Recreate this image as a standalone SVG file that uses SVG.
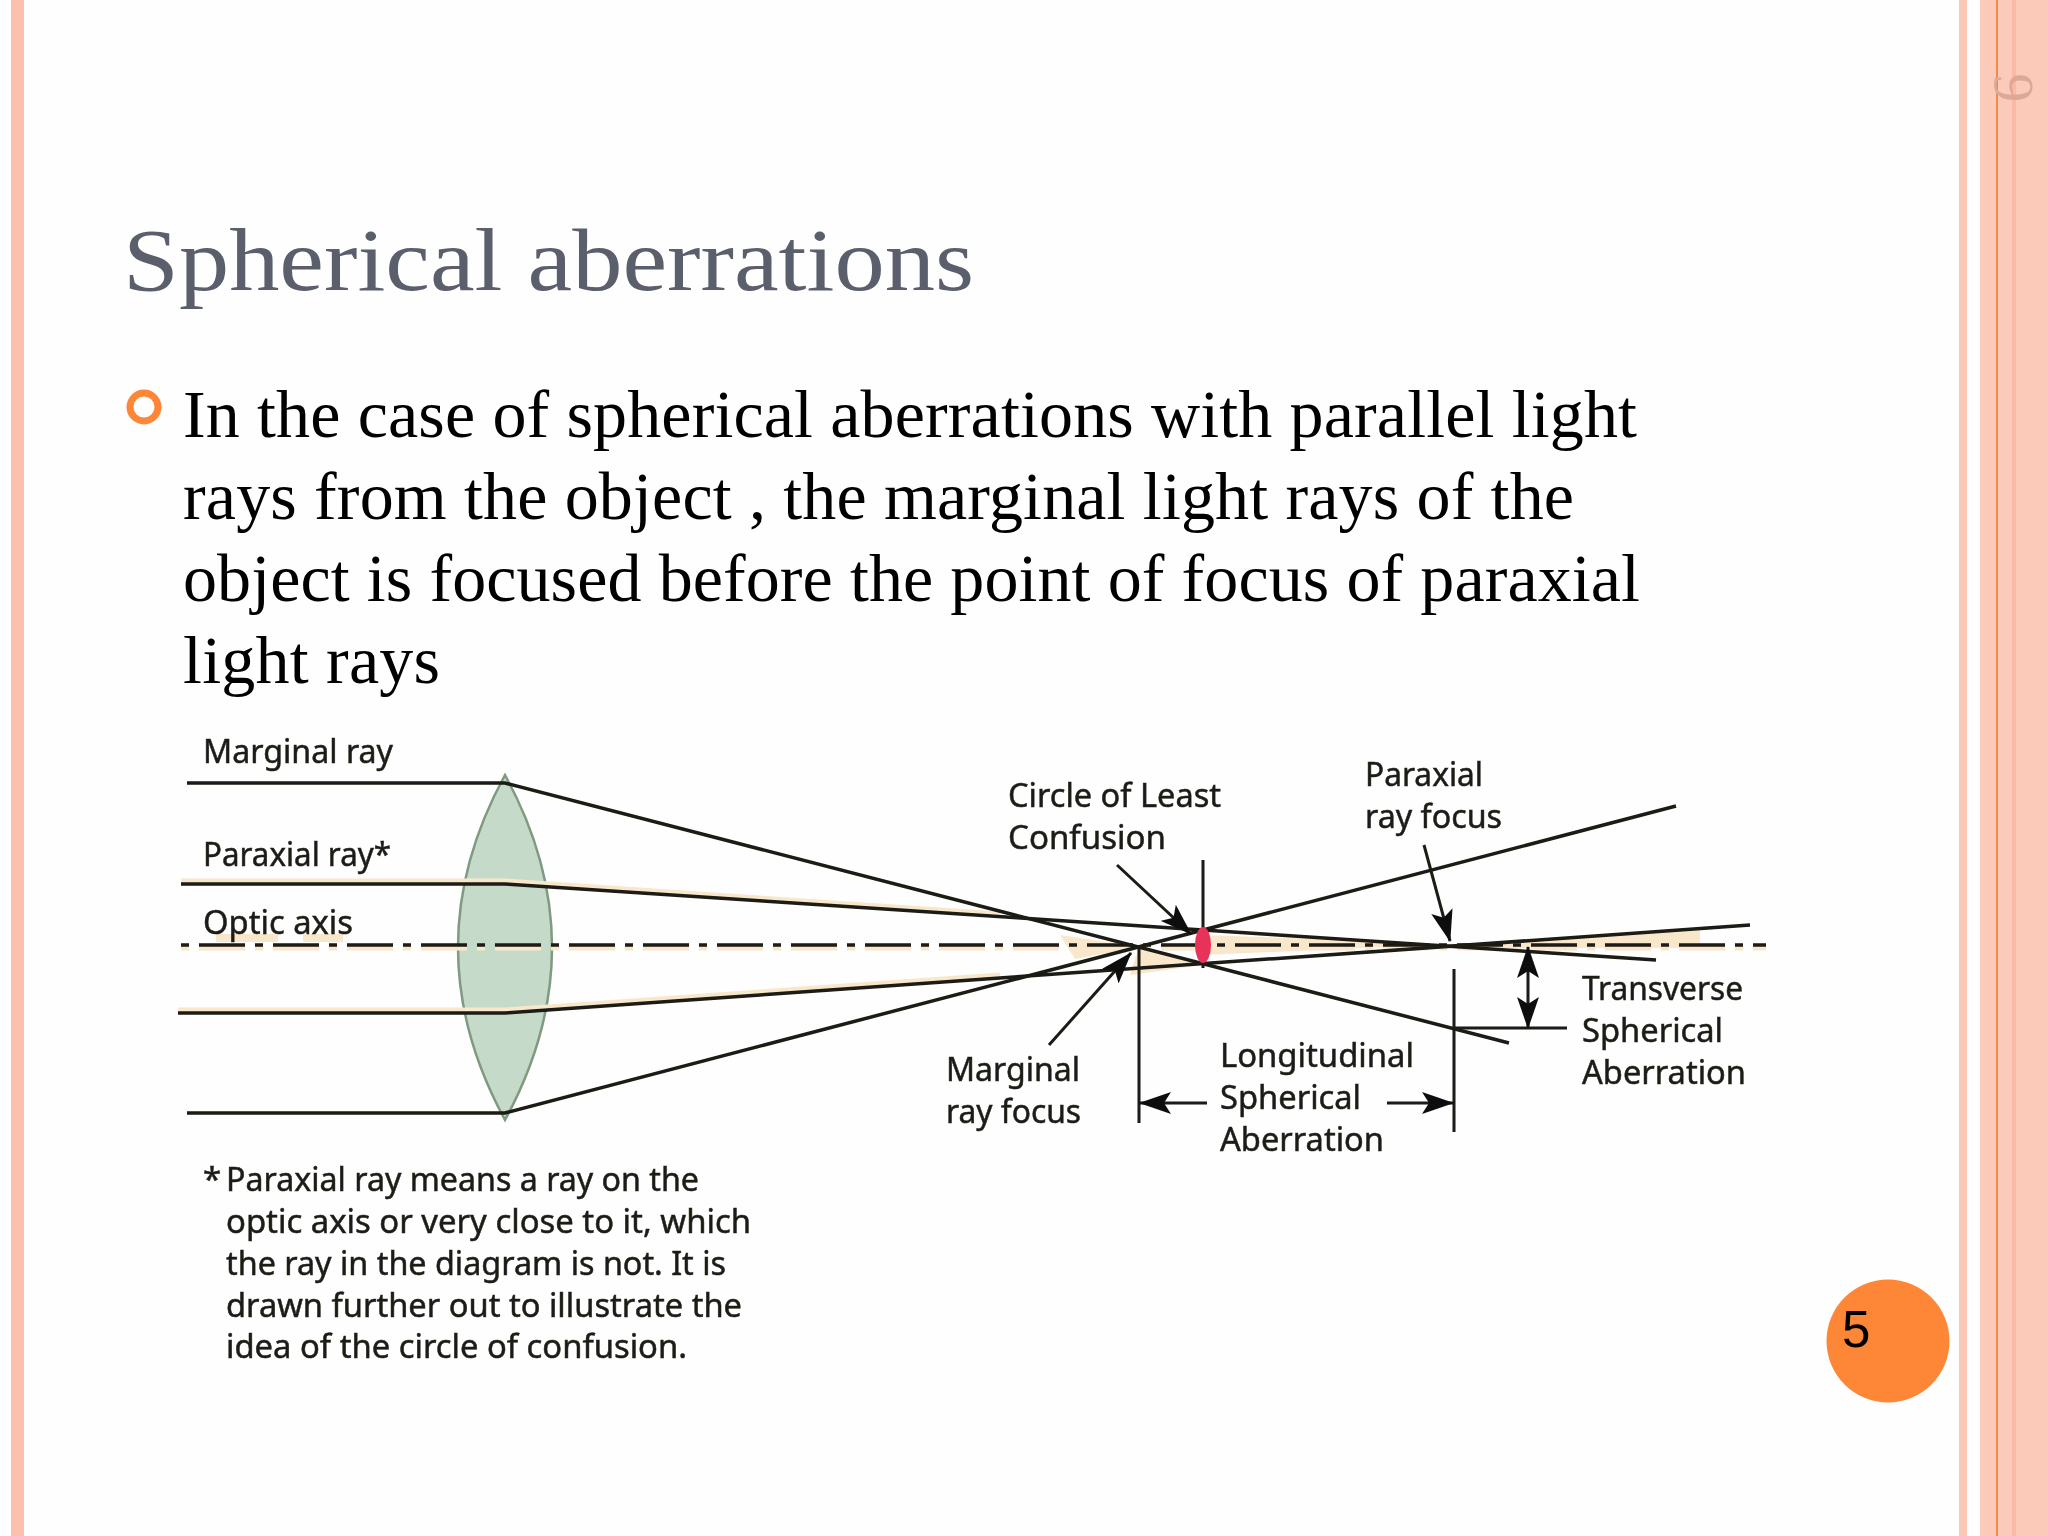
<svg xmlns="http://www.w3.org/2000/svg" width="2048" height="1536" viewBox="0 0 2048 1536">
<style>
.t{font-family:"Liberation Serif",serif}
.l{font-family:"Noto Sans","Open Sans",sans-serif;font-size:33px;fill:#1e1e18;stroke:#1e1e18;stroke-width:.5}
.r{fill:none;stroke:#1c1a12;stroke-width:3.5}
.c{fill:none;stroke:#f9e7cb;stroke-width:5}
.h{stroke:#1c1a12;stroke-width:3;fill:none}
.b{font-family:"Liberation Serif",serif;font-size:68px;fill:#000}
</style>
<defs>
<marker id="a" viewBox="0 0 32 22" refX="31" refY="11" markerWidth="32" markerHeight="22" markerUnits="userSpaceOnUse" orient="auto-start-reverse"><path d="M0 0L32 11L0 22L7 11Z" fill="#111"/></marker>
<filter id="s" x="-5%" y="-5%" width="110%" height="110%"><feGaussianBlur stdDeviation="0.7"/></filter>
</defs>
<rect width="2048" height="1536" fill="#fefefe"/>
<g id="frame">
<rect x="11" width="13" height="1536" fill="#fdc0ad"/>
<rect x="1959" width="8" height="1536" fill="#fcc8b6"/>
<rect x="1980" width="68" height="1536" fill="#fccab8"/>
<rect x="1996" width="2" height="1536" fill="#f28a4e"/>
<rect x="2012" width="4" height="1536" fill="#fab9a3"/>
<text id="page" transform="translate(2032,88) rotate(-90)" text-anchor="middle" style="font-family:'Liberation Serif',serif;font-size:58px;fill:#dba995">6</text>
</g>
<g id="title"><text class="t" x="123" y="290" font-size="88" fill="#5b5f6c" textLength="851" lengthAdjust="spacingAndGlyphs">Spherical aberrations</text></g>
<g id="body">
<circle cx="144" cy="407" r="14" fill="none" stroke="#fd8637" stroke-width="7"/>
<text class="b" x="183" y="437" textLength="1454">In the case of spherical aberrations with parallel light</text>
<text class="b" x="183" y="519" textLength="1391">rays from the object , the marginal light rays of the</text>
<text class="b" x="183" y="601" textLength="1457">object is focused before the point of focus of paraxial</text>
<text class="b" x="183" y="683" textLength="257">light rays</text>
</g>
<g id="slide-number"><circle cx="1888" cy="1341" r="61.5" fill="#fd8637"/><text x="1842" y="1347" font-size="51" fill="#000" style="font-family:'Liberation Sans',sans-serif">5</text></g>
<g filter="url(#s)">
<g id="lens"><path d="M505 775Q411 947 505 1120Q599 947 505 775Z" fill="#c5dac8" stroke="#7f9a80" stroke-width="2.5"/></g>
<g id="focus-shading">
<path d="M1060 935L1139 947L1075 959Z M1203 935L1454 944L1203 955Z M1454 945L1700 930L1700 948L1454 948Z M1139 947L1203 965L1130 975Z" fill="#f9e7cb"/>
</g>
<g id="connectors">
<path class="c" stroke-dasharray="46 10 8 10" stroke-dashoffset="54" d="M179 948H1766"/>
<path class="c" d="M181 881H505L1000 914M178 1010H505L1000 975"/>
<path class="r" stroke-dasharray="46 10 8 10" stroke-dashoffset="54" d="M179 945H1766"/>
<path class="r" d="M187 783H505L1509 1043"/>
<path class="r" d="M181 884H505L1656 960"/>
<path class="r" d="M178 1013H505L1750 925"/>
<path class="r" d="M187 1113H505L1676 806"/>
<path class="h" d="M1203 860V968"/>
<ellipse cx="1203" cy="945" rx="8" ry="18" fill="#e8305a"/>
<path class="h" d="M1139 947V1123M1454 969V1132M1454 1028H1567"/>
<path class="h" marker-end="url(#a)" d="M1207 1103H1140"/>
<path class="h" marker-end="url(#a)" d="M1387 1103H1453"/>
<path class="h" marker-start="url(#a)" marker-end="url(#a)" d="M1528 947V1028"/>
<path class="h" marker-end="url(#a)" d="M1117 865L1191 934"/>
<path class="h" marker-end="url(#a)" d="M1424 845L1450 941"/>
<path class="h" marker-end="url(#a)" d="M1049 1045L1131 953"/>
</g>
<g id="labels">
<rect x="216" y="934" width="62" height="8" fill="#f9e7cb"/><rect x="303" y="934" width="40" height="8" fill="#f9e7cb"/>
<text class="l" x="203" y="763" textLength="190" lengthAdjust="spacingAndGlyphs">Marginal ray</text>
<text class="l" x="203" y="866" textLength="188" lengthAdjust="spacingAndGlyphs">Paraxial ray*</text>
<text class="l" x="203" y="934" textLength="150" lengthAdjust="spacingAndGlyphs">Optic axis</text>
<text class="l" x="1008" y="807" textLength="213" lengthAdjust="spacingAndGlyphs">Circle of Least</text>
<text class="l" x="1008" y="849" textLength="158" lengthAdjust="spacingAndGlyphs">Confusion</text>
<text class="l" x="1365" y="786" textLength="118" lengthAdjust="spacingAndGlyphs">Paraxial</text>
<text class="l" x="1365" y="828" textLength="137" lengthAdjust="spacingAndGlyphs">ray focus</text>
<text class="l" x="946" y="1081" textLength="134" lengthAdjust="spacingAndGlyphs">Marginal</text>
<text class="l" x="946" y="1123" textLength="135" lengthAdjust="spacingAndGlyphs">ray focus</text>
<text class="l" x="1220" y="1067" textLength="194" lengthAdjust="spacingAndGlyphs">Longitudinal</text>
<text class="l" x="1220" y="1109" textLength="141" lengthAdjust="spacingAndGlyphs">Spherical</text>
<text class="l" x="1220" y="1151" textLength="164" lengthAdjust="spacingAndGlyphs">Aberration</text>
<text class="l" x="1582" y="1000" textLength="161" lengthAdjust="spacingAndGlyphs">Transverse</text>
<text class="l" x="1582" y="1042" textLength="141" lengthAdjust="spacingAndGlyphs">Spherical</text>
<text class="l" x="1582" y="1084" textLength="164" lengthAdjust="spacingAndGlyphs">Aberration</text>
<text class="l" x="203" y="1191">*</text>
<text class="l" x="226" y="1191" textLength="473" lengthAdjust="spacingAndGlyphs">Paraxial ray means a ray on the</text>
<text class="l" x="226" y="1233" textLength="525" lengthAdjust="spacingAndGlyphs">optic axis or very close to it, which</text>
<text class="l" x="226" y="1275" textLength="500" lengthAdjust="spacingAndGlyphs">the ray in the diagram is not. It is</text>
<text class="l" x="226" y="1317" textLength="516" lengthAdjust="spacingAndGlyphs">drawn further out to illustrate the</text>
<text class="l" x="226" y="1358" textLength="461" lengthAdjust="spacingAndGlyphs">idea of the circle of confusion.</text>
</g>
</g>
</svg>
